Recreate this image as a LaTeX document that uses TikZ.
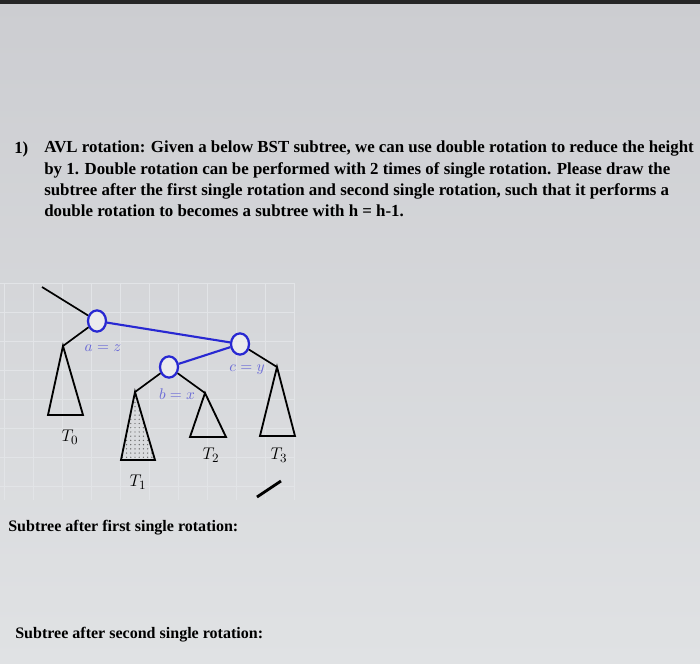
\documentclass[tikz,border=0pt]{standalone}
\usepackage{fontspec}
\setmainfont{Liberation Serif}
\usetikzlibrary{patterns,shapes.geometric}
\definecolor{screen}{RGB}{204,205,209}
\definecolor{screenlight}{RGB}{224,226,228}
\definecolor{gridline}{RGB}{226,228,231}
\definecolor{nodeblue}{RGB}{40,40,210}
\definecolor{labelblue}{RGB}{105,105,215}
\tikzset{
  treenode/.style={ellipse, draw=nodeblue, line width=1.6pt, fill=white!60!screen,
    minimum width=0.45cm, minimum height=0.53cm, inner sep=0pt},
  bluelink/.style={draw=nodeblue, line width=1.5pt},
  blacklink/.style={draw=black, line width=1.2pt},
  subtree/.style={draw=black, line width=1.3pt, line join=miter},
  nodelabel/.style={text=labelblue, font=\fontsize{11}{12}\selectfont},
  treelabel/.style={font=\fontsize{12.5}{13}\selectfont},
  question/.style={anchor=west, font=\bfseries\fontsize{12}{14}\selectfont, inner sep=0pt},
  prompt/.style={question, font=\bfseries\fontsize{11.4}{13}\selectfont}
}
\begin{document}
\begin{tikzpicture}[x=0.025cm, y=-0.025cm]
  % Screen background
  \shade[top color=screen, bottom color=screenlight] (0,0) rectangle (700,664);
  \fill[black!85] (0,0) rectangle (700,4);
  \useasboundingbox (0,0) rectangle (700,664);

  % Question text
  \node[question] (num) at (14,149) {1)};
  \node[question] (l1) at (44,149) {AVL rotation: Given a below BST subtree, we can use double rotation to reduce the height};
  \node[question] (l2) at (44,170) {by 1. Double rotation can be performed with 2 times of single rotation. Please draw the};
  \node[question] (l3) at (44,191) {subtree after the first single rotation and second single rotation, such that it performs a};
  \node[question] (l4) at (44,211) {double rotation to becomes a subtree with h = h-1.};

  % Faint grid behind the tree
  \foreach \gx in {4,33,...,294}
    \draw[gridline, line width=0.6pt] (\gx,283) -- (\gx,500);
  \foreach \gy in {283,312,...,500}
    \draw[gridline, line width=0.6pt] (0,\gy) -- (294,\gy);

  % Tree nodes
  \coordinate (parent) at (42,287);
  \node[treenode] (a) at (97,321) {};
  \node[treenode] (c) at (240,344) {};
  \node[treenode] (b) at (169,367) {};

  % Subtree apexes
  \coordinate (t0) at (63,346);
  \coordinate (t1) at (135,392);
  \coordinate (t2) at (205,393);
  \coordinate (t3) at (277,367);

  % Subtrees
  \draw[subtree] (t0) -- (48,415) -- (83,415) -- cycle;
  \draw[subtree, pattern=dots, pattern color=black!60] (t1) -- (121,460) -- (155,460) -- cycle;
  \draw[subtree] (t2) -- (190,437) -- (226,437) -- cycle;
  \draw[subtree] (t3) -- (260,436) -- (295,436) -- cycle;

  % Links
  \draw[blacklink] (parent) -- (a);
  \draw[bluelink] (a) -- (c);
  \draw[bluelink] (c) -- (b);
  \draw[blacklink] (a) -- (t0);
  \draw[blacklink] (b) -- (t1);
  \draw[blacklink] (b) -- (t2);
  \draw[blacklink] (c) -- (t3);

  % Labels
  \node[nodelabel] (la) at (103,348) {$a=z$};
  \node[nodelabel] (lb) at (177,394) {$b=x$};
  \node[nodelabel] (lc) at (247,370) {$c=y$};
  \node[treelabel] (l0) at (70,437) {$T_0$};
  \node[treelabel] (lt1) at (138,482) {$T_1$};
  \node[treelabel] (lt2) at (211,455) {$T_2$};
  \node[treelabel] (lt3) at (279,455) {$T_3$};

  % Pen mark
  \coordinate (mark0) at (257,497);
  \coordinate (mark1) at (281,481);
  \draw[black, line width=2pt] (mark0) -- (mark1);

  % Answer prompts
  \node[prompt] (first) at (8,528) {Subtree after first single rotation:};
  \node[prompt] (second) at (15,635) {Subtree after second single rotation:};
\end{tikzpicture}
\end{document}
